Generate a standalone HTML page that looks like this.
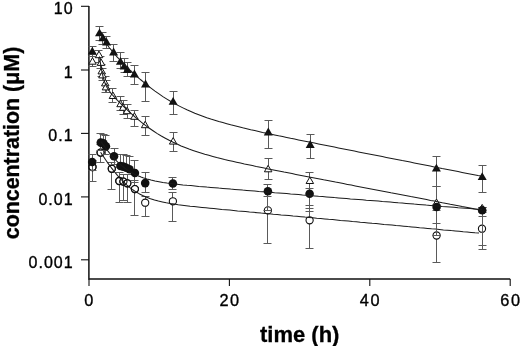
<!DOCTYPE html>
<html><head><meta charset="utf-8"><title>Concentration vs time</title>
<style>html,body{margin:0;padding:0;background:#fff;}body{width:520px;height:346px;overflow:hidden;}svg{display:block;}</style>
</head><body>
<svg width="520" height="346" viewBox="0 0 520 346"><rect width="520" height="346" fill="#fff"/><g stroke="#111" fill="none"><path d="M88.9 6V279H510.2" stroke-width="1.5"/><path d="M81 6.3H89" stroke-width="1.1"/><path d="M81 70H89" stroke-width="1.1"/><path d="M81 133.4H89" stroke-width="1.1"/><path d="M81 196.9H89" stroke-width="1.1"/><path d="M81 259.8H89" stroke-width="1.1"/><path d="M89 279H89V286" stroke-width="1.1"/><path d="M229.4 279H229.4V286" stroke-width="1.1"/><path d="M369.8 279H369.8V286" stroke-width="1.1"/><path d="M510.2 279H510.2V286" stroke-width="1.1"/></g><g font-family="'Liberation Sans', Arial, sans-serif" font-size="16" fill="#000" stroke="#000" stroke-width="0.35" letter-spacing="1"><text x="73.6" y="14" text-anchor="end">10</text><text x="73.6" y="77.7" text-anchor="end">1</text><text x="73.6" y="141.1" text-anchor="end">0.1</text><text x="73.6" y="204.6" text-anchor="end">0.01</text><text x="73.6" y="267.5" text-anchor="end">0.001</text></g><g font-family="'Liberation Sans', Arial, sans-serif" font-size="16.3" fill="#000" stroke="#000" stroke-width="0.35" letter-spacing="1.6"><text x="89.7" y="306.1" text-anchor="middle">0</text><text x="230.1" y="306.1" text-anchor="middle">20</text><text x="370.5" y="306.1" text-anchor="middle">40</text><text x="510.9" y="306.1" text-anchor="middle">60</text></g><g font-family="'Liberation Sans', Arial, sans-serif" font-size="22" font-weight="bold" fill="#000" stroke="#000" stroke-width="0.3"><text x="299.7" y="341.5" text-anchor="middle">time (h)</text><text transform="translate(18.6 143) rotate(-90)" text-anchor="middle" font-size="21.4">concentration (μM)</text></g><g stroke="#5a5a5a" stroke-width="1" fill="none"><path d="M92.5 160.5V181.5M88.5 160.5H96.5M88.5 181.5H96.5"/><path d="M100.5 144.5V162.5M96.5 144.5H104.5M96.5 162.5H104.5"/><path d="M111.5 162.5V189.5M107.5 162.5H115.5M107.5 189.5H115.5"/><path d="M119.5 172.5V202.5M115.5 172.5H123.5M115.5 202.5H123.5"/><path d="M123.5 174.5V200.5M119.5 174.5H127.5M119.5 200.5H127.5"/><path d="M127.5 174.5V202.5M123.5 174.5H131.5M123.5 202.5H131.5"/><path d="M134.5 180.5V215.5M130.5 180.5H138.5M130.5 215.5H138.5"/><path d="M145.5 196.5V216.5M141.5 196.5H149.5M141.5 216.5H149.5"/><path d="M172.5 192.5V221.5M168.5 192.5H176.5M168.5 221.5H176.5"/><path d="M267.5 196.5V243.5M263.5 196.5H271.5M263.5 243.5H271.5"/><path d="M309.5 205.5V248.5M305.5 205.5H313.5M305.5 248.5H313.5"/><path d="M436.5 223.5V262.5M432.5 223.5H440.5M432.5 262.5H440.5"/><path d="M482.5 216.5V249.5M478.5 216.5H486.5M478.5 249.5H486.5"/></g><g stroke="#111" stroke-width="1.1"><circle cx="92.5" cy="167" r="3.6" fill="#fff"/><circle cx="100.6" cy="152.6" r="3.6" fill="#fff"/><circle cx="111.8" cy="168.8" r="3.6" fill="#fff"/><circle cx="119.3" cy="181" r="3.6" fill="#fff"/><circle cx="123.4" cy="181.6" r="3.6" fill="#fff"/><circle cx="127.3" cy="183.3" r="3.6" fill="#fff"/><circle cx="134.9" cy="189.1" r="3.6" fill="#fff"/><circle cx="145.2" cy="202.7" r="3.6" fill="#fff"/><circle cx="172.9" cy="201.3" r="3.6" fill="#fff"/><circle cx="267.9" cy="210.4" r="3.6" fill="#fff"/><circle cx="309.6" cy="220.3" r="3.6" fill="#fff"/><circle cx="436.6" cy="235.5" r="3.6" fill="#fff"/><circle cx="482" cy="228.7" r="3.6" fill="#fff"/></g><path d="M100.6 152.2 L101.6 153.7 L102.6 155.3 L103.6 156.8 L104.6 158.3 L105.6 159.8 L106.6 161.2 L107.6 162.6 L108.6 164.1 L109.6 165.4 L110.6 166.8 L111.6 168.1 L112.6 169.4 L113.6 170.7 L114.6 172 L115.6 173.2 L116.6 174.4 L117.6 175.6 L118.6 176.7 L119.6 177.8 L120.6 178.9 L121.6 180 L122.6 181 L123.6 182 L124.6 182.9 L125.6 183.9 L126.6 184.8 L127.6 185.6 L128.6 186.5 L129.6 187.3 L130.6 188.1 L131.6 188.8 L132.6 189.6 L133.6 190.3 L134.6 191 L135.6 191.6 L136.6 192.2 L137.6 192.8 L138.6 193.4 L139.6 194 L140.6 194.5 L142.6 195.5 L146.6 197.3 L150.5 198.7 L154.5 200 L158.4 201.1 L162.4 202 L166.3 202.8 L170.3 203.5 L174.3 204.1 L178.2 204.7 L182.2 205.2 L186.1 205.7 L190.1 206.2 L194 206.6 L198 207 L202 207.4 L205.9 207.8 L209.9 208.2 L213.8 208.6 L217.8 209 L221.8 209.4 L225.7 209.7 L229.7 210.1 L233.6 210.5 L237.6 210.9 L241.5 211.2 L245.5 211.6 L249.5 212 L253.4 212.3 L257.4 212.7 L261.3 213.1 L265.3 213.4 L269.2 213.8 L273.2 214.2 L277.2 214.5 L281.1 214.9 L285.1 215.2 L289 215.6 L293 216 L296.9 216.3 L300.9 216.7 L304.9 217.1 L308.8 217.4 L312.8 217.8 L316.7 218.2 L320.7 218.5 L324.7 218.9 L328.6 219.3 L332.6 219.6 L336.5 220 L340.5 220.4 L344.4 220.7 L348.4 221.1 L352.4 221.5 L356.3 221.8 L360.3 222.2 L364.2 222.5 L368.2 222.9 L372.1 223.3 L376.1 223.6 L380.1 224 L384 224.4 L388 224.7 L391.9 225.1 L395.9 225.5 L399.8 225.8 L403.8 226.2 L407.8 226.6 L411.7 226.9 L415.7 227.3 L419.6 227.7 L423.6 228 L427.6 228.4 L431.5 228.8 L435.5 229.1 L439.4 229.5 L443.4 229.9 L447.3 230.2 L451.3 230.6 L455.3 230.9 L459.2 231.3 L463.2 231.7 L467.1 232 L471.1 232.4 L475 232.8 L479 233.1" stroke="#1a1a1a" stroke-width="1.05" fill="none"/><g stroke="#111" stroke-width="1.1" fill="none"><circle cx="92.5" cy="167" r="3.6" fill="none"/><circle cx="100.6" cy="152.6" r="3.6" fill="none"/><circle cx="111.8" cy="168.8" r="3.6" fill="none"/><circle cx="119.3" cy="181" r="3.6" fill="none"/><circle cx="123.4" cy="181.6" r="3.6" fill="none"/><circle cx="127.3" cy="183.3" r="3.6" fill="none"/><circle cx="134.9" cy="189.1" r="3.6" fill="none"/></g><g stroke="#5a5a5a" stroke-width="1" fill="none"><path d="M92.5 54.5V66.5M88.5 54.5H96.5M88.5 66.5H96.5"/><path d="M98.5 50.5V62.5M94.5 50.5H102.5M94.5 62.5H102.5"/><path d="M100.5 56.5V68.5M96.5 56.5H104.5M96.5 68.5H104.5"/><path d="M101.5 64.5V76.5M97.5 64.5H105.5M97.5 76.5H105.5"/><path d="M102.5 68.5V80.5M98.5 68.5H106.5M98.5 80.5H106.5"/><path d="M105.5 76.5V92.5M101.5 76.5H109.5M101.5 92.5H109.5"/><path d="M106.5 80.5V92.5M102.5 80.5H110.5M102.5 92.5H110.5"/><path d="M112.5 88.5V102.5M108.5 88.5H116.5M108.5 102.5H116.5"/><path d="M120.5 96.5V110.5M116.5 96.5H124.5M116.5 110.5H124.5"/><path d="M123.5 100.5V114.5M119.5 100.5H127.5M119.5 114.5H127.5"/><path d="M127.5 104.5V118.5M123.5 104.5H131.5M123.5 118.5H131.5"/><path d="M134.5 110.5V126.5M130.5 110.5H138.5M130.5 126.5H138.5"/><path d="M145.5 116.5V135.5M141.5 116.5H149.5M141.5 135.5H149.5"/><path d="M173.5 132.5V151.5M169.5 132.5H177.5M169.5 151.5H177.5"/><path d="M268.5 158.5V179.5M264.5 158.5H272.5M264.5 179.5H272.5"/><path d="M309.5 172.5V208.5M305.5 172.5H313.5M305.5 208.5H313.5"/><path d="M436.5 186.5V210.5M432.5 186.5H440.5M432.5 210.5H440.5"/><path d="M482.5 207.5V212.5M478.5 207.5H486.5M478.5 212.5H486.5"/></g><g stroke="#111" stroke-width="1.0" stroke-linejoin="round"><path d="M92.5 57.7L96.2 64.2L88.8 64.2Z" fill="#fff"/><path d="M99 51.2L102.8 57.7L95.2 57.7Z" fill="#fff"/><path d="M101 58.9L104.8 65.4L97.2 65.4Z" fill="#fff"/><path d="M101.7 67.4L105.5 73.9L98 73.9Z" fill="#fff"/><path d="M102.4 71.4L106.2 77.9L98.7 77.9Z" fill="#fff"/><path d="M105.3 79.4L109 85.9L101.5 85.9Z" fill="#fff"/><path d="M106 83.4L109.8 89.9L102.2 89.9Z" fill="#fff"/><path d="M112.9 92L116.7 98.5L109.2 98.5Z" fill="#fff"/><path d="M120.5 100.2L124.2 106.7L116.8 106.7Z" fill="#fff"/><path d="M123.2 103.8L127 110.3L119.5 110.3Z" fill="#fff"/><path d="M127.1 107.2L130.8 113.7L123.3 113.7Z" fill="#fff"/><path d="M134.4 112.8L138.2 119.3L130.7 119.3Z" fill="#fff"/><path d="M145.2 121.2L148.9 127.7L141.4 127.7Z" fill="#fff"/><path d="M173.2 137.6L176.9 144.1L169.4 144.1Z" fill="#fff"/><path d="M268.1 165.3L271.9 171.8L264.4 171.8Z" fill="#fff"/><path d="M309.8 177L313.6 183.5L306.1 183.5Z" fill="#fff"/><path d="M436.5 199L440.2 205.5L432.8 205.5Z" fill="#fff"/><path d="M482.2 204.4L485.9 210.9L478.4 210.9Z" fill="#fff"/></g><path d="M99.5 56.5 L100.5 63.6 L101.5 69.5 L102.5 74.4 L103.5 78.4 L104.5 81.6 L105.5 84.3 L106.5 86.4 L107.5 88.3 L108.5 89.9 L109.5 91.3 L110.5 92.6 L111.5 93.8 L112.5 95 L113.5 96.1 L114.5 97.2 L115.5 98.3 L116.5 99.3 L117.5 100.4 L118.5 101.4 L119.5 102.4 L120.5 103.4 L121.5 104.4 L122.5 105.4 L123.5 106.3 L124.5 107.3 L125.5 108.3 L126.5 109.2 L127.5 110.2 L128.5 111.1 L129.5 112 L130.5 112.9 L131.5 113.8 L132.5 114.7 L133.5 115.6 L134.5 116.5 L135.5 117.3 L136.5 118.2 L137.5 119 L138.5 119.9 L139.5 120.7 L141.5 122.3 L145.5 125.4 L149.4 128.3 L153.4 131 L157.3 133.6 L161.3 136 L165.3 138.2 L169.2 140.3 L173.2 142.3 L177.1 144.1 L181.1 145.9 L185.1 147.5 L189 149 L193 150.4 L196.9 151.7 L200.9 153 L204.8 154.2 L208.8 155.3 L212.8 156.4 L216.7 157.5 L220.7 158.5 L224.6 159.5 L228.6 160.4 L232.6 161.3 L236.5 162.2 L240.5 163.1 L244.4 164 L248.4 164.8 L252.4 165.6 L256.3 166.5 L260.3 167.3 L264.2 168.1 L268.2 168.9 L272.2 169.7 L276.1 170.5 L280.1 171.3 L284 172.1 L288 172.8 L292 173.6 L295.9 174.4 L299.9 175.2 L303.8 175.9 L307.8 176.7 L311.8 177.5 L315.7 178.2 L319.7 179 L323.6 179.8 L327.6 180.5 L331.5 181.3 L335.5 182.1 L339.5 182.8 L343.4 183.6 L347.4 184.4 L351.3 185.1 L355.3 185.9 L359.3 186.7 L363.2 187.4 L367.2 188.2 L371.1 188.9 L375.1 189.7 L379.1 190.5 L383 191.2 L387 192 L390.9 192.8 L394.9 193.5 L398.9 194.3 L402.8 195 L406.8 195.8 L410.7 196.6 L414.7 197.3 L418.7 198.1 L422.6 198.8 L426.6 199.6 L430.5 200.4 L434.5 201.1 L438.4 201.9 L442.4 202.7 L446.4 203.4 L450.3 204.2 L454.3 204.9 L458.2 205.7 L462.2 206.5 L466.2 207.2 L470.1 208 L474.1 208.8 L478 209.5 L482 210.3" stroke="#1a1a1a" stroke-width="1.05" fill="none"/><g stroke="#5a5a5a" stroke-width="1" fill="none"><path d="M92.5 154.5V170.5M88.5 154.5H96.5M88.5 170.5H96.5"/><path d="M100.5 133.5V150.5M96.5 133.5H104.5M96.5 150.5H104.5"/><path d="M103.5 134.5V150.5M99.5 134.5H107.5M99.5 150.5H107.5"/><path d="M105.5 135.5V154.5M101.5 135.5H109.5M101.5 154.5H109.5"/><path d="M114.5 148.5V164.5M110.5 148.5H118.5M110.5 164.5H118.5"/><path d="M120.5 154.5V167.5M116.5 154.5H124.5M116.5 167.5H124.5"/><path d="M123.5 154.5V168.5M119.5 154.5H127.5M119.5 168.5H127.5"/><path d="M126.5 155.5V168.5M122.5 155.5H130.5M122.5 168.5H130.5"/><path d="M129.5 156.5V170.5M125.5 156.5H133.5M125.5 170.5H133.5"/><path d="M134.5 160.5V182.5M130.5 160.5H138.5M130.5 182.5H138.5"/><path d="M145.5 172.5V192.5M141.5 172.5H149.5M141.5 192.5H149.5"/><path d="M172.5 177.5V189.5M168.5 177.5H176.5M168.5 189.5H176.5"/><path d="M267.5 184.5V210.5M263.5 184.5H271.5M263.5 210.5H271.5"/><path d="M309.5 188.5V211.5M305.5 188.5H313.5M305.5 211.5H313.5"/><path d="M436.5 204.5V235.5M432.5 204.5H440.5M432.5 235.5H440.5"/><path d="M482.5 207.5V245.5M478.5 207.5H486.5M478.5 245.5H486.5"/></g><g fill="#111"><circle cx="92.2" cy="162" r="4.3" fill="#111"/><circle cx="100.8" cy="142.6" r="4.3" fill="#111"/><circle cx="103.4" cy="143.2" r="4.3" fill="#111"/><circle cx="105.9" cy="146.3" r="4.3" fill="#111"/><circle cx="114" cy="156.3" r="4.3" fill="#111"/><circle cx="120.4" cy="166" r="4.3" fill="#111"/><circle cx="123.3" cy="166.6" r="4.3" fill="#111"/><circle cx="126.2" cy="167.7" r="4.3" fill="#111"/><circle cx="129.5" cy="169.3" r="4.3" fill="#111"/><circle cx="134.9" cy="173" r="4.3" fill="#111"/><circle cx="145.2" cy="183.1" r="4.3" fill="#111"/><circle cx="172.9" cy="183.5" r="4.3" fill="#111"/><circle cx="267.9" cy="191.3" r="4.3" fill="#111"/><circle cx="309.6" cy="193.8" r="4.3" fill="#111"/><circle cx="436.6" cy="207" r="4.3" fill="#111"/><circle cx="482.2" cy="210.2" r="4.3" fill="#111"/></g><path d="M101 141.7 L102 143.1 L103 144.5 L104 145.9 L105 147.3 L106 148.6 L107 149.9 L108 151.2 L109 152.4 L110 153.7 L111 154.8 L112 156 L113 157.1 L114 158.2 L115 159.3 L116 160.3 L117 161.3 L118 162.3 L119 163.3 L120 164.2 L121 165 L122 165.9 L123 166.7 L124 167.5 L125 168.3 L126 169 L127 169.7 L128 170.4 L129 171 L130 171.6 L131 172.2 L132 172.8 L133 173.4 L134 173.9 L135 174.4 L136 174.9 L137 175.3 L138 175.8 L139 176.2 L140 176.6 L141 177 L143 177.7 L147 179 L151 180 L155 180.9 L159 181.7 L162.9 182.4 L166.9 183 L170.9 183.5 L174.9 184 L178.9 184.4 L182.9 184.9 L186.9 185.3 L190.9 185.6 L194.8 186 L198.8 186.4 L202.8 186.7 L206.8 187.1 L210.8 187.4 L214.8 187.7 L218.8 188.1 L222.8 188.4 L226.8 188.7 L230.7 189.1 L234.7 189.4 L238.7 189.7 L242.7 190.1 L246.7 190.4 L250.7 190.7 L254.7 191 L258.7 191.4 L262.6 191.7 L266.6 192 L270.6 192.3 L274.6 192.7 L278.6 193 L282.6 193.3 L286.6 193.6 L290.6 194 L294.6 194.3 L298.5 194.6 L302.5 195 L306.5 195.3 L310.5 195.6 L314.5 195.9 L318.5 196.3 L322.5 196.6 L326.5 196.9 L330.4 197.2 L334.4 197.6 L338.4 197.9 L342.4 198.2 L346.4 198.5 L350.4 198.9 L354.4 199.2 L358.4 199.5 L362.4 199.8 L366.3 200.2 L370.3 200.5 L374.3 200.8 L378.3 201.1 L382.3 201.5 L386.3 201.8 L390.3 202.1 L394.3 202.4 L398.2 202.8 L402.2 203.1 L406.2 203.4 L410.2 203.7 L414.2 204.1 L418.2 204.4 L422.2 204.7 L426.2 205.1 L430.2 205.4 L434.1 205.7 L438.1 206 L442.1 206.4 L446.1 206.7 L450.1 207 L454.1 207.3 L458.1 207.7 L462.1 208 L466 208.3 L470 208.6 L474 209 L478 209.3 L482 209.6" stroke="#1a1a1a" stroke-width="1.05" fill="none"/><g stroke="#5a5a5a" stroke-width="1" fill="none"><path d="M92.5 46.5V56.5M88.5 46.5H96.5M88.5 56.5H96.5"/><path d="M99.5 26.5V40.5M95.5 26.5H103.5M95.5 40.5H103.5"/><path d="M102.5 32.5V44.5M98.5 32.5H106.5M98.5 44.5H106.5"/><path d="M106.5 36.5V48.5M102.5 36.5H110.5M102.5 48.5H110.5"/><path d="M113.5 44.5V61.5M109.5 44.5H117.5M109.5 61.5H117.5"/><path d="M120.5 52.5V68.5M116.5 52.5H124.5M116.5 68.5H124.5"/><path d="M124.5 58.5V72.5M120.5 58.5H128.5M120.5 72.5H128.5"/><path d="M127.5 62.5V76.5M123.5 62.5H131.5M123.5 76.5H131.5"/><path d="M134.5 65.5V84.5M130.5 65.5H138.5M130.5 84.5H138.5"/><path d="M145.5 72.5V101.5M141.5 72.5H149.5M141.5 101.5H149.5"/><path d="M173.5 91.5V114.5M169.5 91.5H177.5M169.5 114.5H177.5"/><path d="M268.5 120.5V148.5M264.5 120.5H272.5M264.5 148.5H272.5"/><path d="M310.5 134.5V158.5M306.5 134.5H314.5M306.5 158.5H314.5"/><path d="M436.5 156.5V186.5M432.5 156.5H440.5M432.5 186.5H440.5"/><path d="M482.5 165.5V192.5M478.5 165.5H486.5M478.5 192.5H486.5"/></g><g fill="#111"><path d="M92.3 46.7L96.8 54.5L87.8 54.5Z" fill="#111"/><path d="M99.5 28.4L104 36.2L95 36.2Z" fill="#111"/><path d="M103 33.5L107.5 41.3L98.5 41.3Z" fill="#111"/><path d="M106.6 37.7L111.1 45.5L102.1 45.5Z" fill="#111"/><path d="M113.6 47.6L118.1 55.4L109.1 55.4Z" fill="#111"/><path d="M120.4 56.9L124.9 64.7L115.9 64.7Z" fill="#111"/><path d="M124.2 61.7L128.7 69.5L119.7 69.5Z" fill="#111"/><path d="M127.4 65.2L131.9 73L122.9 73Z" fill="#111"/><path d="M134.4 69.6L138.9 77.4L129.9 77.4Z" fill="#111"/><path d="M145.5 79.6L150 87.4L141 87.4Z" fill="#111"/><path d="M173.1 97L177.6 104.8L168.6 104.8Z" fill="#111"/><path d="M268.3 127.6L272.8 135.4L263.8 135.4Z" fill="#111"/><path d="M310.2 140.1L314.7 147.9L305.7 147.9Z" fill="#111"/><path d="M436.4 163.7L440.9 171.5L431.9 171.5Z" fill="#111"/><path d="M482.2 172.2L486.7 180L477.7 180Z" fill="#111"/></g><path d="M101 34.9 L102 36.6 L103 38.3 L104 39.9 L105 41.5 L106 43 L107 44.4 L108 45.8 L109 47.2 L110 48.5 L111 49.7 L112 51 L113 52.2 L114 53.4 L115 54.5 L116 55.7 L117 56.8 L118 57.9 L119 59 L120 60.1 L121 61.1 L122 62.2 L123 63.2 L124 64.2 L125 65.2 L126 66.2 L127 67.2 L128 68.2 L129 69.1 L130 70.1 L131 71 L132 72 L133 72.9 L134 73.8 L135 74.7 L136 75.6 L137 76.5 L138 77.4 L139 78.3 L140 79.2 L141 80 L143 81.7 L147 85 L151 88.1 L155 91.1 L159 93.9 L162.9 96.6 L166.9 99.1 L170.9 101.5 L174.9 103.8 L178.9 105.9 L182.9 107.9 L186.9 109.8 L190.9 111.5 L194.8 113.2 L198.8 114.8 L202.8 116.3 L206.8 117.7 L210.8 119 L214.8 120.2 L218.8 121.5 L222.8 122.6 L226.8 123.7 L230.7 124.8 L234.7 125.8 L238.7 126.8 L242.7 127.8 L246.7 128.7 L250.7 129.7 L254.7 130.6 L258.7 131.5 L262.6 132.4 L266.6 133.2 L270.6 134.1 L274.6 134.9 L278.6 135.8 L282.6 136.6 L286.6 137.4 L290.6 138.3 L294.6 139.1 L298.5 139.9 L302.5 140.7 L306.5 141.5 L310.5 142.3 L314.5 143.1 L318.5 143.9 L322.5 144.7 L326.5 145.5 L330.4 146.3 L334.4 147.1 L338.4 147.9 L342.4 148.7 L346.4 149.5 L350.4 150.3 L354.4 151.1 L358.4 151.9 L362.4 152.7 L366.3 153.4 L370.3 154.2 L374.3 155 L378.3 155.8 L382.3 156.6 L386.3 157.4 L390.3 158.2 L394.3 159 L398.2 159.8 L402.2 160.6 L406.2 161.3 L410.2 162.1 L414.2 162.9 L418.2 163.7 L422.2 164.5 L426.2 165.3 L430.2 166.1 L434.1 166.9 L438.1 167.7 L442.1 168.5 L446.1 169.2 L450.1 170 L454.1 170.8 L458.1 171.6 L462.1 172.4 L466 173.2 L470 174 L474 174.8 L478 175.6 L482 176.3" stroke="#1a1a1a" stroke-width="1.05" fill="none"/></svg>
</body></html>
